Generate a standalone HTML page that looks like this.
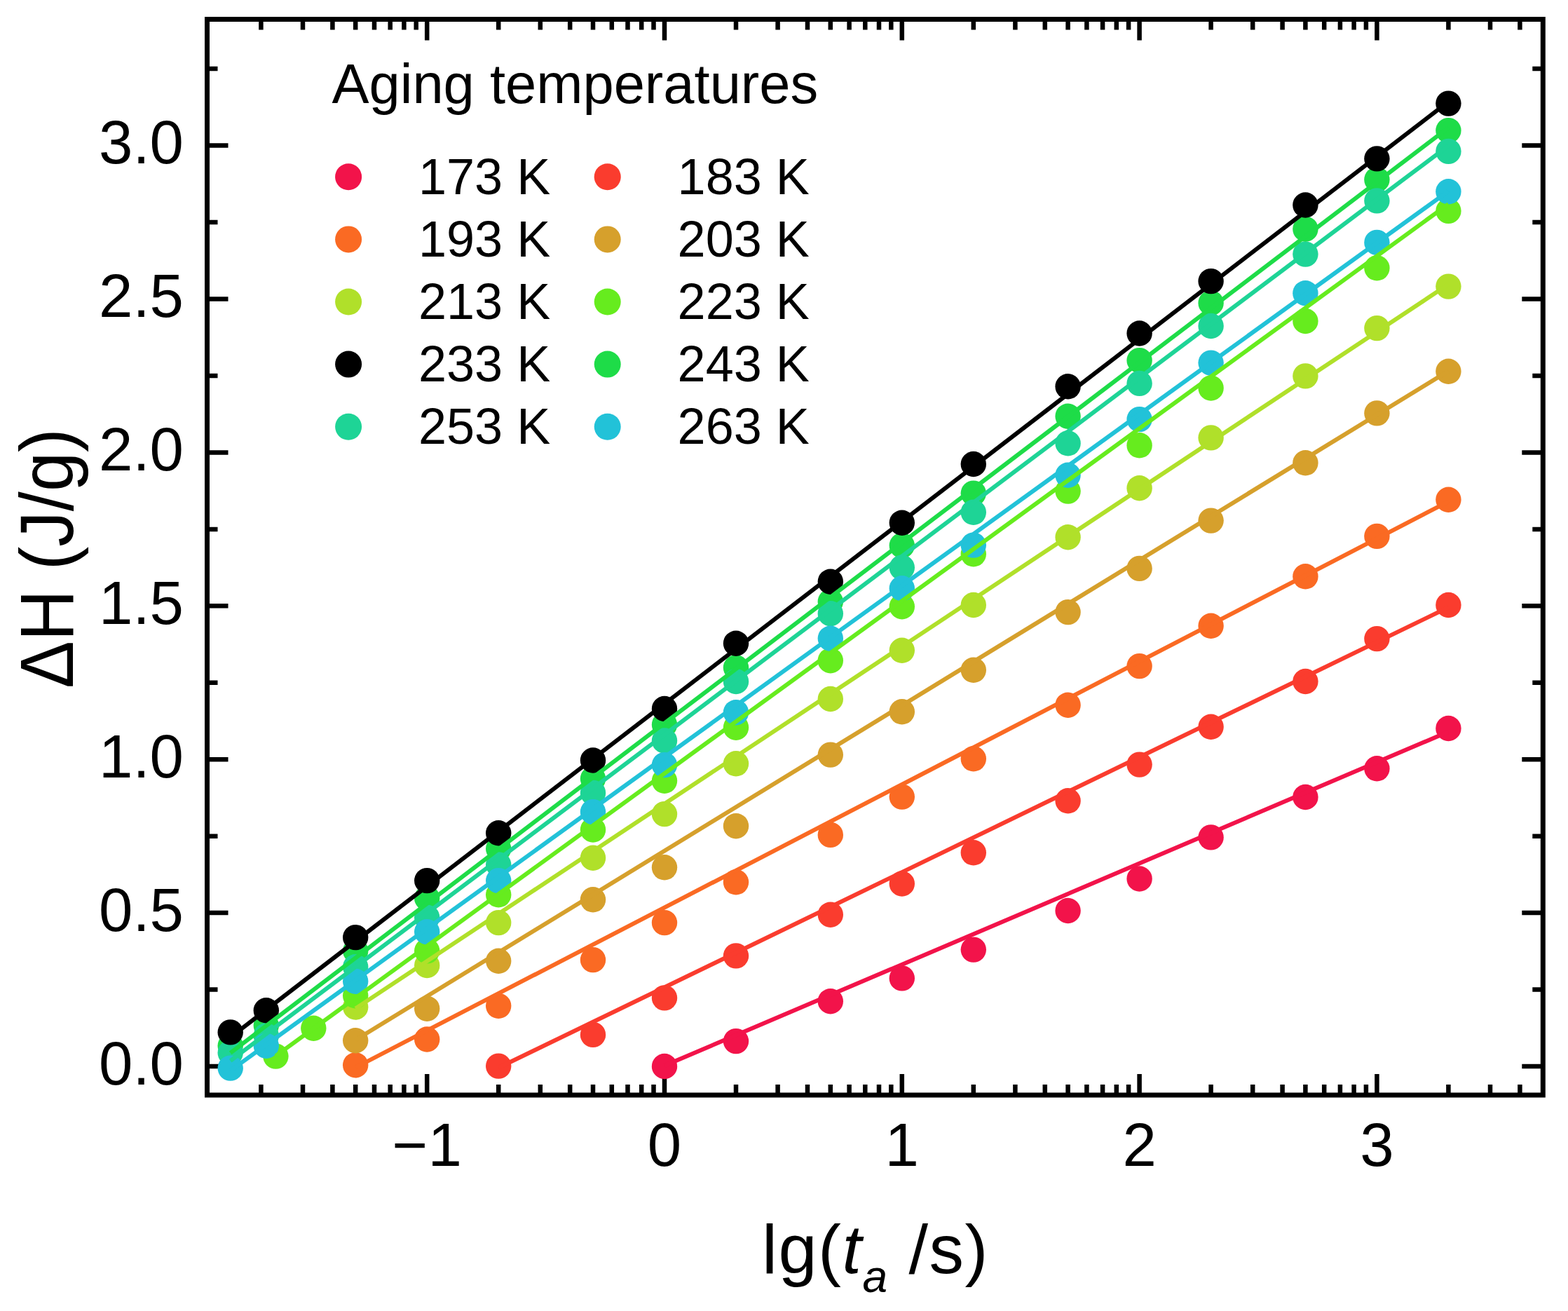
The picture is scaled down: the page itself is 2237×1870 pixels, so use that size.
<!DOCTYPE html>
<html><head><meta charset="utf-8"><style>
html,body{margin:0;padding:0;background:#fff;}
body{width:2237px;height:1870px;overflow:hidden;}
svg{display:block;}
text{font-family:"Liberation Sans",Arial,sans-serif;fill:#000;}
</style></head><body>
<svg width="2237" height="1870" viewBox="0 0 2237 1870">
<rect x="0" y="0" width="2237" height="1870" fill="#fff"/>
<defs><clipPath id="c"><rect x="295.5" y="27.5" width="1905.8000000000002" height="1534.5"/></clipPath></defs>
<path d="M372.4,1562.0v-15M372.4,27.5v15M432.0,1562.0v-15M432.0,27.5v15M474.4,1562.0v-15M474.4,27.5v15M507.2,1562.0v-15M507.2,27.5v15M534.0,1562.0v-15M534.0,27.5v15M556.7,1562.0v-15M556.7,27.5v15M576.4,1562.0v-15M576.4,27.5v15M593.7,1562.0v-15M593.7,27.5v15M609.2,1562.0v-30M609.2,27.5v30M711.2,1562.0v-15M711.2,27.5v15M770.8,1562.0v-15M770.8,27.5v15M813.2,1562.0v-15M813.2,27.5v15M846.0,1562.0v-15M846.0,27.5v15M872.8,1562.0v-15M872.8,27.5v15M895.5,1562.0v-15M895.5,27.5v15M915.2,1562.0v-15M915.2,27.5v15M932.5,1562.0v-15M932.5,27.5v15M948.0,1562.0v-30M948.0,27.5v30M1050.0,1562.0v-15M1050.0,27.5v15M1109.6,1562.0v-15M1109.6,27.5v15M1152.0,1562.0v-15M1152.0,27.5v15M1184.8,1562.0v-15M1184.8,27.5v15M1211.6,1562.0v-15M1211.6,27.5v15M1234.3,1562.0v-15M1234.3,27.5v15M1254.0,1562.0v-15M1254.0,27.5v15M1271.3,1562.0v-15M1271.3,27.5v15M1286.8,1562.0v-30M1286.8,27.5v30M1388.8,1562.0v-15M1388.8,27.5v15M1448.4,1562.0v-15M1448.4,27.5v15M1490.8,1562.0v-15M1490.8,27.5v15M1523.6,1562.0v-15M1523.6,27.5v15M1550.4,1562.0v-15M1550.4,27.5v15M1573.1,1562.0v-15M1573.1,27.5v15M1592.8,1562.0v-15M1592.8,27.5v15M1610.1,1562.0v-15M1610.1,27.5v15M1625.6,1562.0v-30M1625.6,27.5v30M1727.6,1562.0v-15M1727.6,27.5v15M1787.2,1562.0v-15M1787.2,27.5v15M1829.6,1562.0v-15M1829.6,27.5v15M1862.4,1562.0v-15M1862.4,27.5v15M1889.2,1562.0v-15M1889.2,27.5v15M1911.9,1562.0v-15M1911.9,27.5v15M1931.6,1562.0v-15M1931.6,27.5v15M1948.9,1562.0v-15M1948.9,27.5v15M1964.4,1562.0v-30M1964.4,27.5v30M2066.4,1562.0v-15M2066.4,27.5v15M2126.0,1562.0v-15M2126.0,27.5v15M2168.4,1562.0v-15M2168.4,27.5v15M295.5,1521.0h30M2201.3,1521.0h-30M295.5,1411.5h15M2201.3,1411.5h-15M295.5,1302.1h30M2201.3,1302.1h-30M295.5,1192.7h15M2201.3,1192.7h-15M295.5,1083.2h30M2201.3,1083.2h-30M295.5,973.8h15M2201.3,973.8h-15M295.5,864.3h30M2201.3,864.3h-30M295.5,754.9h15M2201.3,754.9h-15M295.5,645.4h30M2201.3,645.4h-30M295.5,535.9h15M2201.3,535.9h-15M295.5,426.5h30M2201.3,426.5h-30M295.5,317.0h15M2201.3,317.0h-15M295.5,207.6h30M2201.3,207.6h-30M295.5,98.1h15M2201.3,98.1h-15" stroke="#000" stroke-width="6.5" fill="none"/>
<g clip-path="url(#c)">
<circle cx="948.0" cy="1521.0" r="18.2" fill="#f2134a"/>
<circle cx="1050.0" cy="1485.1" r="18.2" fill="#f2134a"/>
<circle cx="1184.8" cy="1428.2" r="18.2" fill="#f2134a"/>
<circle cx="1286.8" cy="1395.4" r="18.2" fill="#f2134a"/>
<circle cx="1388.8" cy="1354.6" r="18.2" fill="#f2134a"/>
<circle cx="1523.6" cy="1299.0" r="18.2" fill="#f2134a"/>
<circle cx="1625.6" cy="1253.5" r="18.2" fill="#f2134a"/>
<circle cx="1727.6" cy="1194.4" r="18.2" fill="#f2134a"/>
<circle cx="1862.4" cy="1137.0" r="18.2" fill="#f2134a"/>
<circle cx="1964.4" cy="1096.3" r="18.2" fill="#f2134a"/>
<circle cx="2066.4" cy="1039.0" r="18.2" fill="#f2134a"/>
<circle cx="711.2" cy="1520.6" r="18.2" fill="#fa3c2e"/>
<circle cx="846.0" cy="1475.9" r="18.2" fill="#fa3c2e"/>
<circle cx="948.0" cy="1423.4" r="18.2" fill="#fa3c2e"/>
<circle cx="1050.0" cy="1363.4" r="18.2" fill="#fa3c2e"/>
<circle cx="1184.8" cy="1304.7" r="18.2" fill="#fa3c2e"/>
<circle cx="1286.8" cy="1260.5" r="18.2" fill="#fa3c2e"/>
<circle cx="1388.8" cy="1216.3" r="18.2" fill="#fa3c2e"/>
<circle cx="1523.6" cy="1142.3" r="18.2" fill="#fa3c2e"/>
<circle cx="1625.6" cy="1090.6" r="18.2" fill="#fa3c2e"/>
<circle cx="1727.6" cy="1036.8" r="18.2" fill="#fa3c2e"/>
<circle cx="1862.4" cy="972.0" r="18.2" fill="#fa3c2e"/>
<circle cx="1964.4" cy="911.1" r="18.2" fill="#fa3c2e"/>
<circle cx="2066.4" cy="863.0" r="18.2" fill="#fa3c2e"/>
<circle cx="507.2" cy="1519.2" r="18.2" fill="#fa6a23"/>
<circle cx="609.2" cy="1482.5" r="18.2" fill="#fa6a23"/>
<circle cx="711.2" cy="1434.8" r="18.2" fill="#fa6a23"/>
<circle cx="846.0" cy="1369.1" r="18.2" fill="#fa6a23"/>
<circle cx="948.0" cy="1316.1" r="18.2" fill="#fa6a23"/>
<circle cx="1050.0" cy="1258.3" r="18.2" fill="#fa6a23"/>
<circle cx="1184.8" cy="1190.9" r="18.2" fill="#fa6a23"/>
<circle cx="1286.8" cy="1136.6" r="18.2" fill="#fa6a23"/>
<circle cx="1388.8" cy="1082.3" r="18.2" fill="#fa6a23"/>
<circle cx="1523.6" cy="1005.7" r="18.2" fill="#fa6a23"/>
<circle cx="1625.6" cy="950.1" r="18.2" fill="#fa6a23"/>
<circle cx="1727.6" cy="892.8" r="18.2" fill="#fa6a23"/>
<circle cx="1862.4" cy="822.3" r="18.2" fill="#fa6a23"/>
<circle cx="1964.4" cy="764.9" r="18.2" fill="#fa6a23"/>
<circle cx="2066.4" cy="712.8" r="18.2" fill="#fa6a23"/>
<circle cx="507.2" cy="1484.2" r="18.2" fill="#d6a02c"/>
<circle cx="609.2" cy="1438.7" r="18.2" fill="#d6a02c"/>
<circle cx="711.2" cy="1370.8" r="18.2" fill="#d6a02c"/>
<circle cx="846.0" cy="1283.3" r="18.2" fill="#d6a02c"/>
<circle cx="948.0" cy="1237.3" r="18.2" fill="#d6a02c"/>
<circle cx="1050.0" cy="1178.2" r="18.2" fill="#d6a02c"/>
<circle cx="1184.8" cy="1076.6" r="18.2" fill="#d6a02c"/>
<circle cx="1286.8" cy="1015.3" r="18.2" fill="#d6a02c"/>
<circle cx="1388.8" cy="955.8" r="18.2" fill="#d6a02c"/>
<circle cx="1523.6" cy="873.1" r="18.2" fill="#d6a02c"/>
<circle cx="1625.6" cy="810.9" r="18.2" fill="#d6a02c"/>
<circle cx="1727.6" cy="742.6" r="18.2" fill="#d6a02c"/>
<circle cx="1862.4" cy="660.3" r="18.2" fill="#d6a02c"/>
<circle cx="1964.4" cy="589.4" r="18.2" fill="#d6a02c"/>
<circle cx="2066.4" cy="529.8" r="18.2" fill="#d6a02c"/>
<circle cx="507.2" cy="1436.5" r="18.2" fill="#b0e02a"/>
<circle cx="609.2" cy="1377.0" r="18.2" fill="#b0e02a"/>
<circle cx="711.2" cy="1316.1" r="18.2" fill="#b0e02a"/>
<circle cx="846.0" cy="1223.7" r="18.2" fill="#b0e02a"/>
<circle cx="948.0" cy="1161.1" r="18.2" fill="#b0e02a"/>
<circle cx="1050.0" cy="1089.3" r="18.2" fill="#b0e02a"/>
<circle cx="1184.8" cy="997.0" r="18.2" fill="#b0e02a"/>
<circle cx="1286.8" cy="927.8" r="18.2" fill="#b0e02a"/>
<circle cx="1388.8" cy="863.0" r="18.2" fill="#b0e02a"/>
<circle cx="1523.6" cy="766.2" r="18.2" fill="#b0e02a"/>
<circle cx="1625.6" cy="696.2" r="18.2" fill="#b0e02a"/>
<circle cx="1727.6" cy="624.4" r="18.2" fill="#b0e02a"/>
<circle cx="1862.4" cy="536.4" r="18.2" fill="#b0e02a"/>
<circle cx="1964.4" cy="468.1" r="18.2" fill="#b0e02a"/>
<circle cx="2066.4" cy="408.6" r="18.2" fill="#b0e02a"/>
<circle cx="393.4" cy="1506.6" r="18.2" fill="#66ec1e"/>
<circle cx="447.3" cy="1466.7" r="18.2" fill="#66ec1e"/>
<circle cx="507.2" cy="1420.3" r="18.2" fill="#66ec1e"/>
<circle cx="609.2" cy="1356.4" r="18.2" fill="#66ec1e"/>
<circle cx="711.2" cy="1276.3" r="18.2" fill="#66ec1e"/>
<circle cx="846.0" cy="1183.5" r="18.2" fill="#66ec1e"/>
<circle cx="948.0" cy="1113.8" r="18.2" fill="#66ec1e"/>
<circle cx="1050.0" cy="1037.7" r="18.2" fill="#66ec1e"/>
<circle cx="1184.8" cy="942.2" r="18.2" fill="#66ec1e"/>
<circle cx="1286.8" cy="865.2" r="18.2" fill="#66ec1e"/>
<circle cx="1388.8" cy="790.3" r="18.2" fill="#66ec1e"/>
<circle cx="1523.6" cy="700.6" r="18.2" fill="#66ec1e"/>
<circle cx="1625.6" cy="635.3" r="18.2" fill="#66ec1e"/>
<circle cx="1727.6" cy="553.5" r="18.2" fill="#66ec1e"/>
<circle cx="1862.4" cy="458.0" r="18.2" fill="#66ec1e"/>
<circle cx="1964.4" cy="382.3" r="18.2" fill="#66ec1e"/>
<circle cx="2066.4" cy="300.9" r="18.2" fill="#66ec1e"/>
<circle cx="328.7" cy="1491.7" r="18.2" fill="#1edc48"/>
<circle cx="379.8" cy="1462.8" r="18.2" fill="#1edc48"/>
<circle cx="507.2" cy="1356.4" r="18.2" fill="#1edc48"/>
<circle cx="609.2" cy="1281.1" r="18.2" fill="#1edc48"/>
<circle cx="711.2" cy="1210.6" r="18.2" fill="#1edc48"/>
<circle cx="846.0" cy="1110.8" r="18.2" fill="#1edc48"/>
<circle cx="948.0" cy="1033.7" r="18.2" fill="#1edc48"/>
<circle cx="1050.0" cy="952.3" r="18.2" fill="#1edc48"/>
<circle cx="1184.8" cy="858.2" r="18.2" fill="#1edc48"/>
<circle cx="1286.8" cy="778.1" r="18.2" fill="#1edc48"/>
<circle cx="1388.8" cy="703.6" r="18.2" fill="#1edc48"/>
<circle cx="1523.6" cy="593.7" r="18.2" fill="#1edc48"/>
<circle cx="1625.6" cy="514.1" r="18.2" fill="#1edc48"/>
<circle cx="1727.6" cy="432.2" r="18.2" fill="#1edc48"/>
<circle cx="1862.4" cy="326.7" r="18.2" fill="#1edc48"/>
<circle cx="1964.4" cy="256.2" r="18.2" fill="#1edc48"/>
<circle cx="2066.4" cy="186.1" r="18.2" fill="#1edc48"/>
<circle cx="328.7" cy="1501.7" r="18.2" fill="#1ed496"/>
<circle cx="379.8" cy="1477.2" r="18.2" fill="#1ed496"/>
<circle cx="507.2" cy="1379.2" r="18.2" fill="#1ed496"/>
<circle cx="609.2" cy="1308.7" r="18.2" fill="#1ed496"/>
<circle cx="711.2" cy="1233.4" r="18.2" fill="#1ed496"/>
<circle cx="846.0" cy="1130.9" r="18.2" fill="#1ed496"/>
<circle cx="948.0" cy="1056.5" r="18.2" fill="#1ed496"/>
<circle cx="1050.0" cy="972.0" r="18.2" fill="#1ed496"/>
<circle cx="1184.8" cy="875.2" r="18.2" fill="#1ed496"/>
<circle cx="1286.8" cy="809.6" r="18.2" fill="#1ed496"/>
<circle cx="1388.8" cy="730.8" r="18.2" fill="#1ed496"/>
<circle cx="1523.6" cy="632.3" r="18.2" fill="#1ed496"/>
<circle cx="1625.6" cy="546.9" r="18.2" fill="#1ed496"/>
<circle cx="1727.6" cy="465.0" r="18.2" fill="#1ed496"/>
<circle cx="1862.4" cy="362.6" r="18.2" fill="#1ed496"/>
<circle cx="1964.4" cy="286.4" r="18.2" fill="#1ed496"/>
<circle cx="2066.4" cy="215.9" r="18.2" fill="#1ed496"/>
<circle cx="328.7" cy="1523.6" r="18.2" fill="#22c2d8"/>
<circle cx="379.8" cy="1491.7" r="18.2" fill="#22c2d8"/>
<circle cx="507.2" cy="1399.7" r="18.2" fill="#22c2d8"/>
<circle cx="609.2" cy="1329.2" r="18.2" fill="#22c2d8"/>
<circle cx="711.2" cy="1256.1" r="18.2" fill="#22c2d8"/>
<circle cx="846.0" cy="1158.1" r="18.2" fill="#22c2d8"/>
<circle cx="948.0" cy="1091.1" r="18.2" fill="#22c2d8"/>
<circle cx="1050.0" cy="1016.2" r="18.2" fill="#22c2d8"/>
<circle cx="1184.8" cy="910.7" r="18.2" fill="#22c2d8"/>
<circle cx="1286.8" cy="839.3" r="18.2" fill="#22c2d8"/>
<circle cx="1388.8" cy="777.6" r="18.2" fill="#22c2d8"/>
<circle cx="1523.6" cy="677.8" r="18.2" fill="#22c2d8"/>
<circle cx="1625.6" cy="598.1" r="18.2" fill="#22c2d8"/>
<circle cx="1727.6" cy="517.6" r="18.2" fill="#22c2d8"/>
<circle cx="1862.4" cy="418.2" r="18.2" fill="#22c2d8"/>
<circle cx="1964.4" cy="345.9" r="18.2" fill="#22c2d8"/>
<circle cx="2066.4" cy="273.3" r="18.2" fill="#22c2d8"/>
<circle cx="328.7" cy="1472.4" r="18.2" fill="#000000"/>
<circle cx="379.8" cy="1441.3" r="18.2" fill="#000000"/>
<circle cx="507.2" cy="1337.1" r="18.2" fill="#000000"/>
<circle cx="609.2" cy="1256.1" r="18.2" fill="#000000"/>
<circle cx="711.2" cy="1188.3" r="18.2" fill="#000000"/>
<circle cx="846.0" cy="1084.5" r="18.2" fill="#000000"/>
<circle cx="948.0" cy="1011.0" r="18.2" fill="#000000"/>
<circle cx="1050.0" cy="917.7" r="18.2" fill="#000000"/>
<circle cx="1184.8" cy="829.7" r="18.2" fill="#000000"/>
<circle cx="1286.8" cy="745.7" r="18.2" fill="#000000"/>
<circle cx="1388.8" cy="662.0" r="18.2" fill="#000000"/>
<circle cx="1523.6" cy="551.3" r="18.2" fill="#000000"/>
<circle cx="1625.6" cy="475.5" r="18.2" fill="#000000"/>
<circle cx="1727.6" cy="401.1" r="18.2" fill="#000000"/>
<circle cx="1862.4" cy="292.5" r="18.2" fill="#000000"/>
<circle cx="1964.4" cy="226.4" r="18.2" fill="#000000"/>
<circle cx="2066.4" cy="147.6" r="18.2" fill="#000000"/>
<line x1="948.0" y1="1520.0" x2="2066.4" y2="1043.8" stroke="#f2134a" stroke-width="6"/>
<line x1="711.2" y1="1523.0" x2="2066.4" y2="866.3" stroke="#fa3c2e" stroke-width="6"/>
<line x1="507.2" y1="1522.7" x2="2066.4" y2="715.4" stroke="#fa6a23" stroke-width="6"/>
<line x1="507.2" y1="1483.5" x2="2066.4" y2="529.1" stroke="#d6a02c" stroke-width="6"/>
<line x1="507.2" y1="1438.6" x2="2066.4" y2="405.6" stroke="#b0e02a" stroke-width="6"/>
<line x1="393.4" y1="1506.1" x2="2066.4" y2="291.1" stroke="#66ec1e" stroke-width="6"/>
<line x1="328.7" y1="1501.9" x2="2066.4" y2="182.2" stroke="#1edc48" stroke-width="6"/>
<line x1="328.7" y1="1513.1" x2="2066.4" y2="207.8" stroke="#1ed496" stroke-width="6"/>
<line x1="328.7" y1="1527.1" x2="2066.4" y2="272.6" stroke="#22c2d8" stroke-width="6"/>
<line x1="328.7" y1="1479.6" x2="2066.4" y2="145.1" stroke="#000000" stroke-width="6"/>
</g>
<rect x="295.5" y="27.5" width="1905.8" height="1534.5" fill="none" stroke="#000" stroke-width="7"/>
<text x="262" y="1546.5" font-size="87" text-anchor="end">0.0</text>
<text x="262" y="1327.6" font-size="87" text-anchor="end">0.5</text>
<text x="262" y="1108.7" font-size="87" text-anchor="end">1.0</text>
<text x="262" y="889.8" font-size="87" text-anchor="end">1.5</text>
<text x="262" y="670.9" font-size="87" text-anchor="end">2.0</text>
<text x="262" y="452.0" font-size="87" text-anchor="end">2.5</text>
<text x="262" y="233.1" font-size="87" text-anchor="end">3.0</text>
<text x="609.2" y="1663" font-size="87" text-anchor="middle">−1</text>
<text x="948.0" y="1663" font-size="87" text-anchor="middle">0</text>
<text x="1286.8" y="1663" font-size="87" text-anchor="middle">1</text>
<text x="1625.6" y="1663" font-size="87" text-anchor="middle">2</text>
<text x="1964.4" y="1663" font-size="87" text-anchor="middle">3</text>
<text x="1249" y="1816" font-size="99" letter-spacing="1.5" text-anchor="middle">lg(<tspan font-style="italic">t</tspan><tspan font-style="italic" font-size="64" dy="27">a</tspan><tspan dy="-27"> /s)</tspan></text>
<text transform="translate(104,796.5) rotate(-90) scale(1,1.06)" font-size="101" text-anchor="middle">ΔH (J/g)</text>
<text x="473.5" y="147" font-size="79.5">Aging temperatures</text>
<circle cx="497.1" cy="252.3" r="19" fill="#f2134a"/>
<text x="597.0" y="276.8" font-size="72">173 K</text>
<circle cx="866.7" cy="252.3" r="19" fill="#fa3c2e"/>
<text x="966.6" y="276.8" font-size="72">183 K</text>
<circle cx="497.1" cy="341.4" r="19" fill="#fa6a23"/>
<text x="597.0" y="365.9" font-size="72">193 K</text>
<circle cx="866.7" cy="341.4" r="19" fill="#d6a02c"/>
<text x="966.6" y="365.9" font-size="72">203 K</text>
<circle cx="497.1" cy="430.5" r="19" fill="#b0e02a"/>
<text x="597.0" y="455.0" font-size="72">213 K</text>
<circle cx="866.7" cy="430.5" r="19" fill="#66ec1e"/>
<text x="966.6" y="455.0" font-size="72">223 K</text>
<circle cx="497.1" cy="519.6" r="19" fill="#000000"/>
<text x="597.0" y="544.1" font-size="72">233 K</text>
<circle cx="866.7" cy="519.6" r="19" fill="#1edc48"/>
<text x="966.6" y="544.1" font-size="72">243 K</text>
<circle cx="497.1" cy="608.7" r="19" fill="#1ed496"/>
<text x="597.0" y="633.2" font-size="72">253 K</text>
<circle cx="866.7" cy="608.7" r="19" fill="#22c2d8"/>
<text x="966.6" y="633.2" font-size="72">263 K</text>
</svg>
</body></html>
